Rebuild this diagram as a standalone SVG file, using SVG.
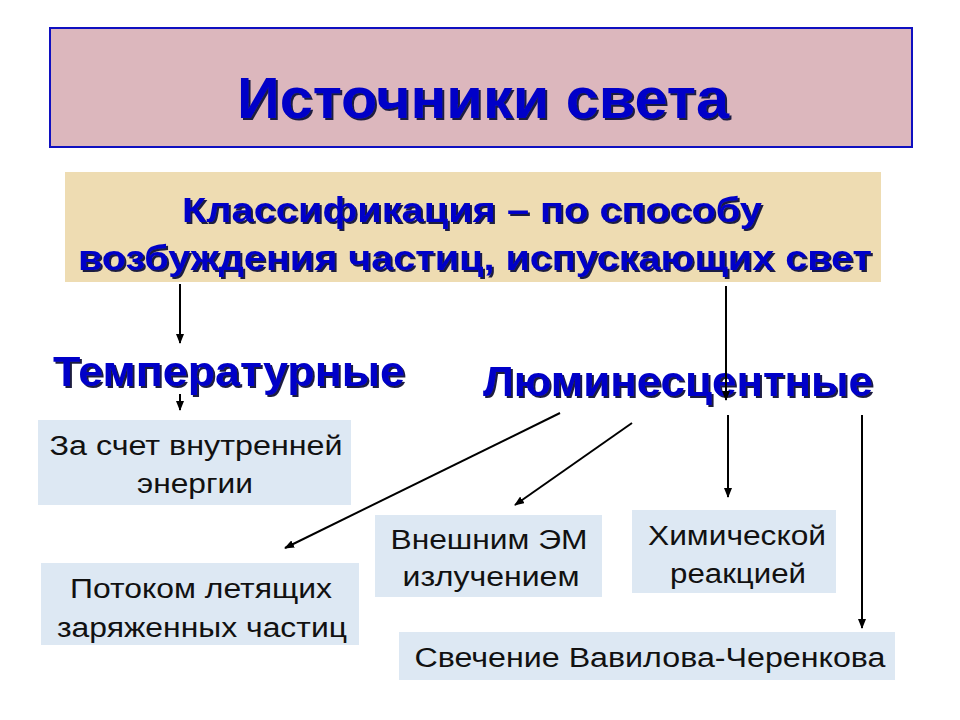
<svg xmlns="http://www.w3.org/2000/svg" width="960" height="720" viewBox="0 0 960 720">
<style>
.h{font-family:"Liberation Sans",Arial,sans-serif;font-weight:bold;fill:#0000c8;text-anchor:middle;filter:url(#s)}
.t{font-family:"Liberation Sans",Arial,sans-serif;font-size:27px;fill:#111;text-anchor:middle}
.box{fill:#dde8f3}
.c{stroke:#000;stroke-width:2;fill:none;marker-end:url(#a)}
</style>
<defs><marker id="a" markerWidth="10" markerHeight="8" refX="9" refY="4" orient="auto" markerUnits="userSpaceOnUse"><path d="M0,0 L10,4 L0,8 z" fill="#000"/></marker>
<filter id="s" x="-5%" y="-20%" width="110%" height="140%"><feDropShadow dx="2" dy="2" stdDeviation="0.3" flood-color="#1a1a40"/></filter></defs>
<rect width="960" height="720" fill="#fff"/>
<g id="title"><rect x="50" y="28" width="862" height="119" fill="#dcb7bd" stroke="#1010c0" stroke-width="2"/>
<text class="h" x="483" y="118" font-size="58" textLength="492" lengthAdjust="spacingAndGlyphs">Источники света</text></g>
<g id="subtitle"><rect x="65" y="172" width="816" height="110" fill="#eedcb2"/>
<text class="h" x="472" y="222" font-size="35" textLength="580" lengthAdjust="spacingAndGlyphs">Классификация – по способу</text>
<text class="h" x="475" y="270" font-size="35" textLength="794" lengthAdjust="spacingAndGlyphs">возбуждения частиц, испускающих свет</text></g>
<g id="temp"><text class="h" x="229" y="386" font-size="42" textLength="352" lengthAdjust="spacingAndGlyphs">Температурные</text></g>
<g id="lum"><text class="h" x="678" y="396" font-size="42" textLength="390" lengthAdjust="spacingAndGlyphs">Люминесцентные</text></g>
<g id="n1"><rect class="box" x="38" y="420" width="313" height="85"/><text class="t" x="196" y="455" textLength="293" lengthAdjust="spacingAndGlyphs">За счет внутренней</text><text class="t" x="195" y="493" textLength="116" lengthAdjust="spacingAndGlyphs">энергии</text></g>
<g id="n2"><rect class="box" x="41" y="563" width="318" height="82"/><text class="t" x="201" y="598" textLength="262" lengthAdjust="spacingAndGlyphs">Потоком летящих</text><text class="t" x="202" y="637" textLength="290" lengthAdjust="spacingAndGlyphs">заряженных частиц</text></g>
<g id="n3"><rect class="box" x="375" y="515" width="227" height="82"/><text class="t" x="489" y="549" textLength="197" lengthAdjust="spacingAndGlyphs">Внешним ЭМ</text><text class="t" x="491" y="586" textLength="177" lengthAdjust="spacingAndGlyphs">излучением</text></g>
<g id="n4"><rect class="box" x="632" y="510" width="204" height="83"/><text class="t" x="737" y="545" textLength="178" lengthAdjust="spacingAndGlyphs">Химической</text><text class="t" x="738" y="583" textLength="136" lengthAdjust="spacingAndGlyphs">реакцией</text></g>
<g id="n5"><rect class="box" x="399" y="632" width="496" height="48"/><text class="t" x="650" y="667" textLength="471" lengthAdjust="spacingAndGlyphs">Свечение Вавилова-Черенкова</text></g>
<g id="connectors">
<path class="c" d="M180,284 V343"/>
<path class="c" d="M726,286 V400"/>
<path class="c" d="M180,394 V410"/>
<path class="c" d="M560,413 L285,548"/>
<path class="c" d="M632,423 L515,505"/>
<path class="c" d="M728,415 V497"/>
<path class="c" d="M862,415 V628"/>
</g>
</svg>
